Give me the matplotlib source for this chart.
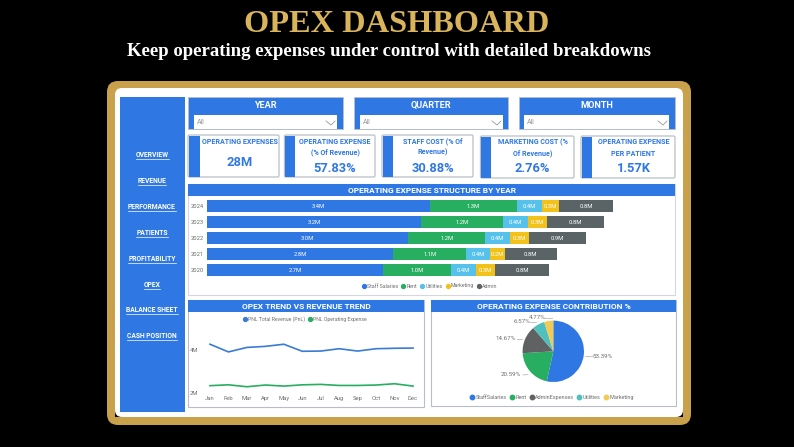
import matplotlib
matplotlib.use('Agg')
import matplotlib.pyplot as plt
from matplotlib.patches import FancyBboxPatch, Rectangle
from matplotlib.lines import Line2D

W, H = 794, 447
BLUE = '#2F78E3'
GOLD = '#C9A14A'
EDGE = '#B9BEC6'
GREY = '#6F6F6F'
UI = 'Roboto'

# data
nav_items = ['OVERVIEW', 'REVENUE', 'PERFORMANCE', 'PATIENTS', 'PROFITABILITY', 'OPEX', 'BALANCE SHEET', 'CASH POSITION']
slicer_names = ['YEAR', 'QUARTER', 'MONTH']
kpi_titles = ['OPERATING EXPENSES', 'OPERATING EXPENSE\n(% Of Revenue)', 'STAFF COST (% Of\nRevenue)',
              'MARKETING COST (%\nOf Revenue)', 'OPERATING EXPENSE\nPER PATIENT']
kpi_values = ['28M', '57.83%', '30.88%', '2.76%', '1.57K']

years = ['2024', '2023', '2022', '2021', '2020']
bar_series = ['Staff Salaries', 'Rent', 'Utilities', 'Marketing', 'Admin']
staff = [3.40, 3.26, 3.07, 2.84, 2.68]
rent = [1.32, 1.25, 1.17, 1.11, 1.04]
utilities = [0.39, 0.38, 0.38, 0.36, 0.38]
marketing = [0.26, 0.30, 0.285, 0.23, 0.29]
admin = [0.82, 0.86, 0.87, 0.79, 0.82]
staff_lbl = ['3.4M', '3.2M', '3.0M', '2.8M', '2.7M']
rent_lbl = ['1.3M', '1.2M', '1.2M', '1.1M', '1.0M']
util_lbl = ['0.4M', '0.4M', '0.4M', '0.4M', '0.4M']
mark_lbl = ['0.3M', '0.3M', '0.3M', '0.2M', '0.3M']
admin_lbl = ['0.8M', '0.8M', '0.9M', '0.8M', '0.8M']
bar_colors = ['#2F78E3', '#27AE60', '#56C1EA', '#F2C21B', '#5A6466']

months = ['Jan', 'Feb', 'Mar', 'Apr', 'May', 'Jun', 'Jul', 'Aug', 'Sep', 'Oct', 'Nov', 'Dec']
revenue = [4.27, 3.91, 4.12, 4.17, 4.27, 3.94, 3.95, 4.06, 3.95, 4.06, 4.08, 4.09]
opex = [2.33, 2.37, 2.28, 2.36, 2.31, 2.37, 2.39, 2.34, 2.34, 2.36, 2.42, 2.31]

pie_names = ['StaffSalaries', 'Rent', 'AdminExpenses', 'Utilities', 'Marketing']
pie_vals = [53.39, 20.59, 14.67, 6.57, 4.77]
pie_colors = ['#2F78E3', '#27AE60', '#5F6162', '#4FC0BE', '#F2CB55']


def rect_ax(x0, y0, x1, y1):
    # pixel box (top-left origin) to figure axes
    return fig.add_axes([x0 / W, 1 - y1 / H, (x1 - x0) / W, (y1 - y0) / H])


def box(x0, y0, x1, y1, fc, ec='none', lw=0, r=0, z=1):
    if r:
        p = FancyBboxPatch((x0, y0), x1 - x0, y1 - y0, boxstyle=f'round,pad=0,rounding_size={r}',
                           fc=fc, ec=ec, lw=lw, zorder=z)
    else:
        p = Rectangle((x0, y0), x1 - x0, y1 - y0, fc=fc, ec=ec, lw=lw, zorder=z)
    bg.add_patch(p)


def dot_legend(names, colors, x, y, size, ms):
    handles = [Line2D([], [], marker='o', ls='', ms=ms, color=c, label=n) for c, n in zip(colors, names)]
    fig.legend(handles=handles, loc='center', bbox_to_anchor=(x / W, 1 - y / H), ncols=len(names), frameon=False,
               prop={'family': UI, 'size': size}, labelcolor=GREY, handlelength=0.7, handletextpad=0.25,
               columnspacing=0.6, borderpad=0)


fig = plt.figure(figsize=(W / 100, H / 100), dpi=100, facecolor='black')
bg = fig.add_axes([0, 0, 1, 1])
bg.set_xlim(0, W)
bg.set_ylim(H, 0)
bg.axis('off')

# headline
bg.text(397, 24, 'OPEX DASHBOARD', color='#D9B45B', family='Liberation Serif', weight='bold',
        fontsize=23.3, ha='center', va='center')
bg.text(389, 52, 'Keep operating expenses under control with detailed breakdowns', color='white',
        family='Liberation Serif', weight='bold', fontsize=13.5, ha='center', va='center')

# frame
box(107, 81, 691, 425, GOLD, r=11)
box(115, 404, 683, 417, 'black', z=1.1)
box(115, 88, 683, 417, 'white', r=7, z=1.2)

# side menu
box(120, 97, 185, 412, BLUE, z=2)
nav_y = [155, 181, 207, 233, 259, 285, 310.5, 336.5]
for name, y in zip(nav_items, nav_y):
    t = bg.text(152, y, name, color='white', family=UI, weight='bold', fontsize=4.9, ha='center', va='center', zorder=3)
    bb = t.get_window_extent(fig.canvas.get_renderer())
    bg.plot([bb.x0, bb.x1], [y + 3.6, y + 3.6], color='white', lw=0.5, zorder=3)

# slicers
slicer_x = [(188, 343, 194, 337), (354, 508, 360, 503), (519, 675, 524, 669)]
for name, (x0, x1, w0, w1) in zip(slicer_names, slicer_x):
    box(x0, 97, x1, 129, BLUE, ec=EDGE, lw=0.6, z=2)
    box(w0, 115, w1, 129, 'white', z=3)
    bg.text((x0 + x1) / 2, 105, name, color='white', family=UI, weight='bold', fontsize=6.6, ha='center', va='center', zorder=4)
    bg.text(w0 + 3, 123, 'All', color='#999999', family=UI, fontsize=5, ha='left', va='center', zorder=4)
    bg.plot([w1 - 11, w1 - 6, w1 - 2], [121, 125, 121], color='#9A9A9A', lw=0.6, zorder=4)

# kpi cards
kpi_x = [(188, 279, 200), (284.5, 375, 295), (382, 473, 393), (480.5, 574, 491), (581, 675, 592)]
kpi_top = [135, 135, 135, 136, 136]
for title, val, (x0, x1, s), y0 in zip(kpi_titles, kpi_values, kpi_x, kpi_top):
    y1 = y0 + 42
    box(x0, y0, x1, y1, 'white', ec=EDGE, lw=0.9, r=1.5, z=2)
    box(x0 + 0.5, y0 + 0.5, s, y1 - 0.5, BLUE, z=3)
    cx = (s + x1) / 2
    two = '\n' in title
    bg.text(cx, y0 + (12 if two else 7), title, color=BLUE, family=UI, weight='bold', fontsize=5.1, ha='center', va='center',
            linespacing=1.5, zorder=4)
    bg.text(cx, y0 + (33 if two else 27), val, color=BLUE, family=UI, weight='bold', fontsize=9.3, ha='center', va='center', zorder=4)

# panels and title bars
box(188, 184, 675, 295, 'white', ec='#D5D8DC', lw=0.8, z=2)
box(188, 300, 424, 407, 'white', ec=EDGE, lw=0.8, z=2)
box(431, 300, 676, 406, 'white', ec=EDGE, lw=0.8, z=2)
for x0, x1, y0, y1, txt in [(188, 675, 184, 196, 'OPERATING EXPENSE STRUCTURE BY YEAR'),
                            (188, 424, 300, 312, 'OPEX TREND VS REVENUE TREND'),
                            (431, 676, 300, 312, 'OPERATING EXPENSE CONTRIBUTION %')]:
    box(x0, y0, x1, y1, BLUE, z=3)
    bg.text((x0 + x1) / 2, (y0 + y1) / 2 + 0.2, txt, color='white', family=UI, weight='bold',
            fontsize=6.0, ha='center', va='center', zorder=4)

# stacked bars
ax1 = rect_ax(207, 198, 675, 278)
ax1.patch.set_alpha(0)
left = [0.0] * 5
for vals, lbls, col, name in zip([staff, rent, utilities, marketing, admin],
                                 [staff_lbl, rent_lbl, util_lbl, mark_lbl, admin_lbl], bar_colors, bar_series):
    bars = ax1.barh(range(5), vals, left=left, height=0.79, color=col, label=name)
    ax1.bar_label(bars, labels=lbls, label_type='center', color='white', fontsize=4.2, family=UI)
    left = [a + b for a, b in zip(left, vals)]
ax1.set_xlim(0, 468 / 65.6)
ax1.set_ylim(4.5, -0.5)
ax1.set_yticks(range(5), years)
ax1.set_xticks([])
ax1.tick_params(axis='y', length=0, pad=2, labelsize=4.2, labelcolor=GREY)
for lab in ax1.get_yticklabels():
    lab.set_family(UI)
for s in ax1.spines.values():
    s.set_visible(False)
dot_legend(bar_series, bar_colors, 430, 286, 3.8, 2.8)

# trend lines
ax2 = rect_ax(200, 325, 423, 394)
ax2.patch.set_alpha(0)
ax2.plot(months, revenue, color='#3A7BD5', lw=1.2)
ax2.plot(months, opex, color='#27AE60', lw=1.2)
ax2.set_xlim(-0.54, 11.54)
ax2.set_ylim(1.94, 5.17)
ax2.set_yticks([2, 4], ['2M', '4M'])
ax2.tick_params(length=0, labelsize=4.2, labelcolor=GREY, pad=1.5)
for lab in ax2.get_xticklabels() + ax2.get_yticklabels():
    lab.set_family(UI)
for s in ax2.spines.values():
    s.set_visible(False)
dot_legend(['PNL Total Revenue (PnL)', 'PNL Operating Expense'], ['#3A7BD5', '#27AE60'], 305, 319, 3.7, 2.8)

# pie
cx, cy, r = 553.3, 351.3, 30.7
ax3 = rect_ax(cx - r, cy - r, cx + r, cy + r)
wedges, _ = ax3.pie(pie_vals, colors=pie_colors, startangle=90, counterclock=False, radius=1)
ax3.set_xlim(-1, 1)
ax3.set_ylim(-1, 1)
for w in wedges:
    w.set_clip_on(False)
pie_text_xy = [(603, 356), (511, 375), (506, 338.5), (522, 321.5), (537, 317.5)]
pie_lead = [(585, 355.5, 593, 355.5), (528, 374.5, 523, 375), (522, 338.5, 516.5, 338.5),
            (536, 322, 530, 322), (552, 318, 544, 318)]
for v, (tx, ty), (a, b, c, d) in zip(pie_vals, pie_text_xy, pie_lead):
    bg.text(tx, ty, f'{v:.2f}%', color=GREY, family=UI, fontsize=4.5, ha='center', va='center', zorder=5)
    bg.plot([a, c], [b, d], color='#AAAAAA', lw=0.5, zorder=5)
dot_legend(pie_names, pie_colors, 552, 397.5, 4.0, 3.2)

fig.savefig('out.png', dpi=100, facecolor='black')
